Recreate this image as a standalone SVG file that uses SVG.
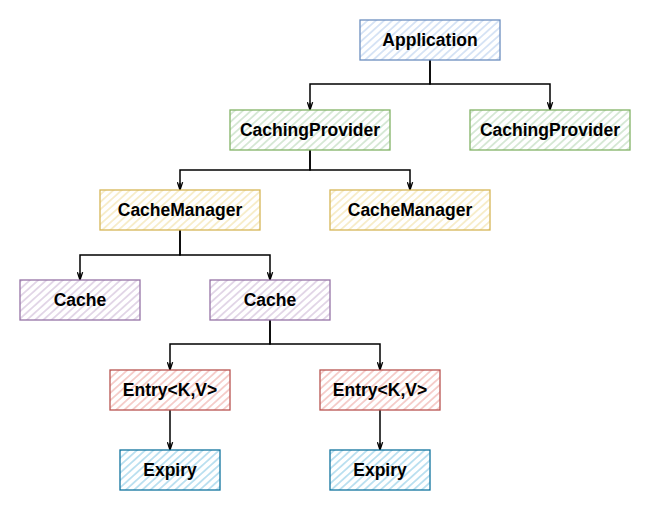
<svg xmlns="http://www.w3.org/2000/svg" width="651" height="511" viewBox="0 0 651 511">
<defs>
<pattern id="hb" width="5.5" height="5.5" patternUnits="userSpaceOnUse" patternTransform="rotate(-42)"><rect width="5.5" height="5.5" fill="#fff"/><line x1="0" y1="2.75" x2="5.5" y2="2.75" stroke="#c5d8f2" stroke-width="1.3"/></pattern>
<pattern id="hg" width="5.5" height="5.5" patternUnits="userSpaceOnUse" patternTransform="rotate(-42)"><rect width="5.5" height="5.5" fill="#fff"/><line x1="0" y1="2.75" x2="5.5" y2="2.75" stroke="#c6dfc4" stroke-width="1.3"/></pattern>
<pattern id="hy" width="5.5" height="5.5" patternUnits="userSpaceOnUse" patternTransform="rotate(-42)"><rect width="5.5" height="5.5" fill="#fff"/><line x1="0" y1="2.75" x2="5.5" y2="2.75" stroke="#f5e6b5" stroke-width="1.3"/></pattern>
<pattern id="hp" width="5.5" height="5.5" patternUnits="userSpaceOnUse" patternTransform="rotate(-42)"><rect width="5.5" height="5.5" fill="#fff"/><line x1="0" y1="2.75" x2="5.5" y2="2.75" stroke="#d6c6de" stroke-width="1.3"/></pattern>
<pattern id="hr" width="5.5" height="5.5" patternUnits="userSpaceOnUse" patternTransform="rotate(-42)"><rect width="5.5" height="5.5" fill="#fff"/><line x1="0" y1="2.75" x2="5.5" y2="2.75" stroke="#f2b8b5" stroke-width="1.3"/></pattern>
<pattern id="hc" width="5.5" height="5.5" patternUnits="userSpaceOnUse" patternTransform="rotate(-42)"><rect width="5.5" height="5.5" fill="#fff"/><line x1="0" y1="2.75" x2="5.5" y2="2.75" stroke="#9fd3ea" stroke-width="1.3"/></pattern>
<marker id="arr" viewBox="0 0 10 8" refX="10" refY="4" markerWidth="9" markerHeight="7" markerUnits="userSpaceOnUse" orient="auto"><path d="M1 1 L10 4 L1 7" fill="none" stroke="#000" stroke-width="1.5"/><path d="M2 4 H10" stroke="#000" stroke-width="1.5"/></marker>
</defs>
<style>
.box{stroke-width:1.3}
.lbl{font-family:"Liberation Sans",Arial,sans-serif;font-weight:bold;font-size:17.5px;text-anchor:middle;dominant-baseline:central;fill:#000}
.blue{fill:url(#hb);stroke:#6c8ebf}
.green{fill:url(#hg);stroke:#82b366}
.yellow{fill:url(#hy);stroke:#d6b656}
.purple{fill:url(#hp);stroke:#9673a6}
.red{fill:url(#hr);stroke:#b85450}
.cyan{fill:url(#hc);stroke:#10739e}
.edge{fill:none;stroke:#000;stroke-width:1.5;marker-end:url(#arr)}
</style>
<g id="connectors">
<path class="edge" d="M430 60 V84 H310 V110"/>
<path class="edge" d="M430 60 V84 H550 V110"/>
<path class="edge" d="M310 150 V170 H180 V190"/>
<path class="edge" d="M310 150 V170 H410 V190"/>
<path class="edge" d="M180 230 V255 H80 V280"/>
<path class="edge" d="M180 230 V255 H270 V280"/>
<path class="edge" d="M270 320 V344 H170 V370"/>
<path class="edge" d="M270 320 V344 H380 V370"/>
<path class="edge" d="M170 410 V450"/>
<path class="edge" d="M380 410 V450"/>
</g>
<g id="application"><rect class="box blue" x="360" y="20" width="140" height="40"/><text class="lbl" x="430" y="40">Application</text></g>
<g id="cp1"><rect class="box green" x="230" y="110" width="160" height="40"/><text class="lbl" x="310" y="130">CachingProvider</text></g>
<g id="cp2"><rect class="box green" x="470" y="110" width="160" height="40"/><text class="lbl" x="550" y="130">CachingProvider</text></g>
<g id="cm1"><rect class="box yellow" x="100" y="190" width="160" height="40"/><text class="lbl" x="180" y="210">CacheManager</text></g>
<g id="cm2"><rect class="box yellow" x="330" y="190" width="160" height="40"/><text class="lbl" x="410" y="210">CacheManager</text></g>
<g id="cache1"><rect class="box purple" x="20" y="280" width="120" height="40"/><text class="lbl" x="80" y="300">Cache</text></g>
<g id="cache2"><rect class="box purple" x="210" y="280" width="120" height="40"/><text class="lbl" x="270" y="300">Cache</text></g>
<g id="entry1"><rect class="box red" x="110" y="370" width="120" height="40"/><text class="lbl" x="170" y="390">Entry&lt;K,V&gt;</text></g>
<g id="entry2"><rect class="box red" x="320" y="370" width="120" height="40"/><text class="lbl" x="380" y="390">Entry&lt;K,V&gt;</text></g>
<g id="expiry1"><rect class="box cyan" x="120" y="450" width="100" height="40"/><text class="lbl" x="170" y="470">Expiry</text></g>
<g id="expiry2"><rect class="box cyan" x="330" y="450" width="100" height="40"/><text class="lbl" x="380" y="470">Expiry</text></g>
</svg>
